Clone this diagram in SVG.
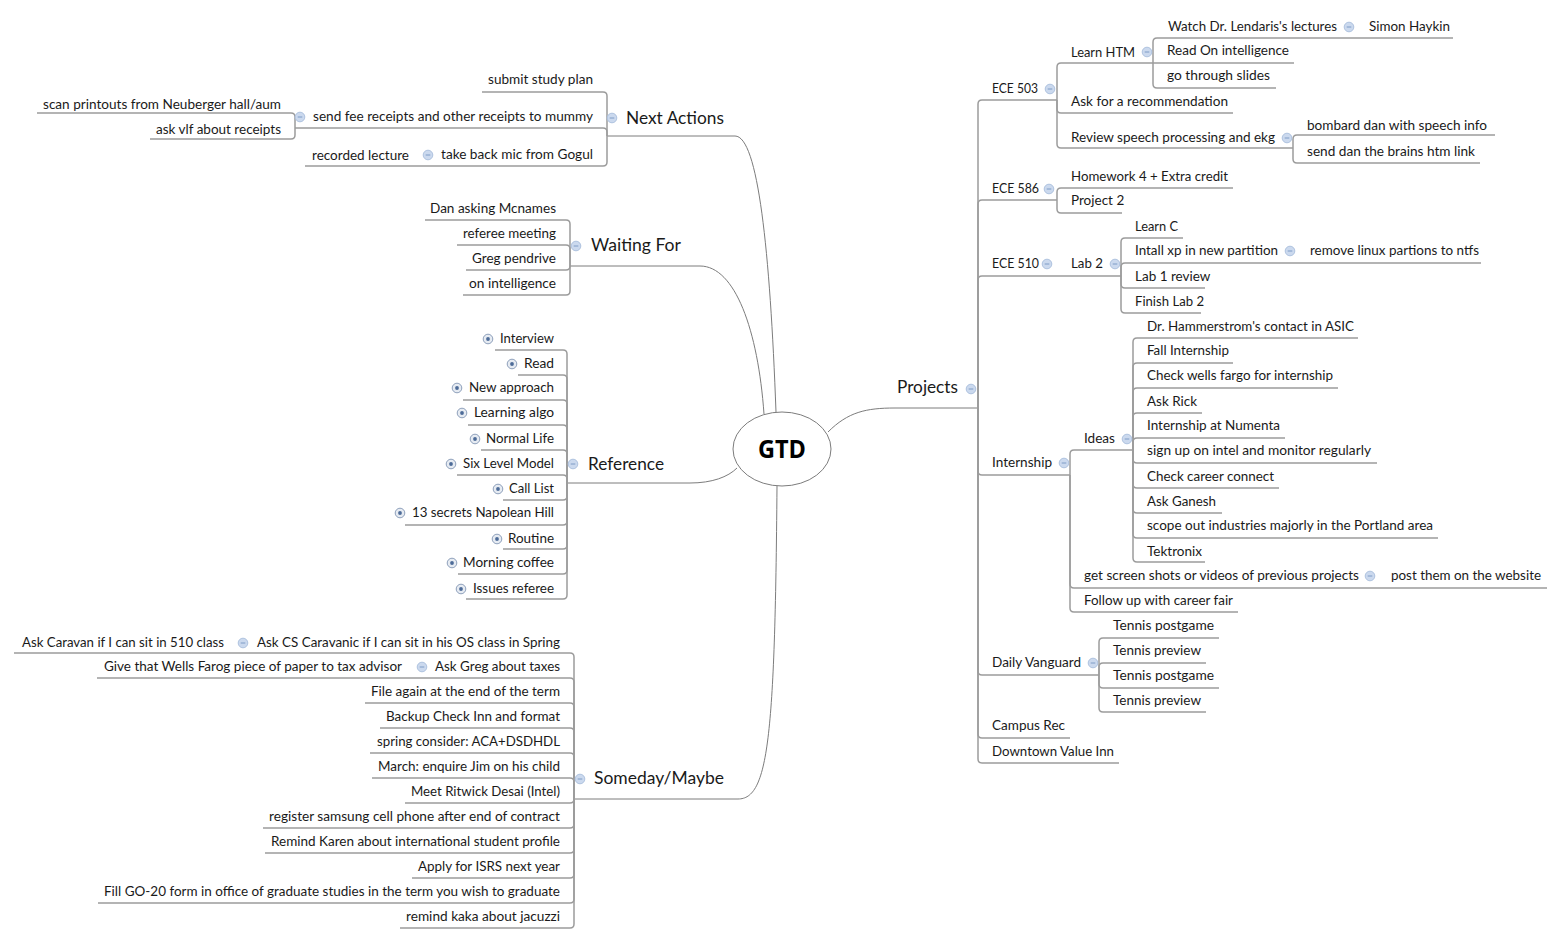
<svg xmlns="http://www.w3.org/2000/svg" xmlns:xlink="http://www.w3.org/1999/xlink" width="1564" height="945" viewBox="0 0 1564 945">
<style>
text{font-family:Lato,"Open Sans","Noto Sans",sans-serif;font-size:13.5px;fill:#1a1a1a}
.m{font-size:17.5px}
.e{text-anchor:end}
.g{font-family:"Open Sans","Noto Sans",sans-serif;font-size:25px;font-weight:bold;text-anchor:middle;fill:#000}
.c{fill:none;stroke:#9c9c9c;stroke-width:1.5}
.k{fill:none;stroke:#7c7c7c;stroke-width:1}
</style>
<defs>
<g id="col"><circle r="4.8" fill="#cbd9ee" stroke="#aec2df" stroke-width="1"/><line x1="-2.3" y1="0" x2="2.3" y2="0" stroke="#7f9cc6" stroke-width="1"/></g>
<g id="exp"><circle r="4.8" fill="#e6ebf2" stroke="#8ea0bb" stroke-width="1"/><circle r="1.9" fill="#4d6b98"/></g>
</defs>
<rect width="1564" height="945" fill="#fff"/>
<g id="connectors">
<path class="k" d="M828 432C848 412 866 408 895 408H978"/>
<path class="k" d="M607 136H735C758 136 770 250 776 412"/>
<path class="k" d="M570 266H700C735 266 758 330 764 414"/>
<path class="k" d="M567 483H690C712 483 728 477 737 468"/>
<path class="k" d="M574 799H738C768 799 775 740 777 486"/>
<g class="c">
<path d="M978 408V104Q978 100 982 100H1057"/>
<path d="M978 408V204Q978 200 982 200H1057"/>
<path d="M978 408V280Q978 276 982 276H1121"/>
<path d="M978 408V471Q978 475 982 475H1070"/>
<path d="M978 408V671Q978 675 982 675H1099"/>
<path d="M978 408V734Q978 738 982 738H1070"/>
<path d="M978 408V759Q978 763 982 763H1119"/>
<path d="M1057 100V67Q1057 63 1061 63H1153"/>
<path d="M1057 100V109Q1057 113 1061 113H1233"/>
<path d="M1057 100V144Q1057 148 1061 148H1293"/>
<path d="M1153 63V42Q1153 38 1157 38H1453"/>
<path d="M1153 63H1294"/>
<path d="M1153 63V84Q1153 88 1157 88H1276"/>
<path d="M1293 148V139Q1293 135 1297 135H1495"/>
<path d="M1293 148V159Q1293 163 1297 163H1480"/>
<path d="M1057 200V192Q1057 188 1061 188H1233"/>
<path d="M1057 200V209Q1057 213 1061 213H1122"/>
<path d="M1121 276V242Q1121 238 1125 238H1183"/>
<path d="M1121 276V267Q1121 263 1125 263H1481"/>
<path d="M1121 276V284Q1121 288 1125 288H1205"/>
<path d="M1121 276V309Q1121 313 1125 313H1201"/>
<path d="M1070 475V454Q1070 450 1074 450H1133"/>
<path d="M1070 475V584Q1070 588 1074 588H1547"/>
<path d="M1070 475V608Q1070 612 1074 612H1238"/>
<path d="M1133 450V342Q1133 338 1137 338H1358"/>
<path d="M1133 450V367Q1133 363 1137 363H1233"/>
<path d="M1133 450V392Q1133 388 1137 388H1338"/>
<path d="M1133 450V417Q1133 413 1137 413H1202"/>
<path d="M1133 450V442Q1133 438 1137 438H1285"/>
<path d="M1133 450V459Q1133 463 1137 463H1377"/>
<path d="M1133 450V484Q1133 488 1137 488H1279"/>
<path d="M1133 450V509Q1133 513 1137 513H1222"/>
<path d="M1133 450V534Q1133 538 1137 538H1438"/>
<path d="M1133 450V558Q1133 562 1137 562H1205"/>
<path d="M1099 675V642Q1099 638 1103 638H1219"/>
<path d="M1099 675V667Q1099 663 1103 663H1206"/>
<path d="M1099 675V684Q1099 688 1103 688H1219"/>
<path d="M1099 675V708Q1099 712 1103 712H1206"/>
<path d="M607 136V96Q607 92 603 92H482"/>
<path d="M607 136V132Q607 128 603 128H295"/>
<path d="M607 136V162Q607 166 603 166H305"/>
<path d="M295 128V117Q295 113 291 113H37"/>
<path d="M295 128V135Q295 139 291 139H150"/>
<path d="M570 266V224Q570 220 566 220H425"/>
<path d="M570 266V249Q570 245 566 245H457"/>
<path d="M570 266Q570 270 566 270H466"/>
<path d="M570 266V291Q570 295 566 295H463"/>
<path d="M567 483V354Q567 350 563 350H495"/>
<path d="M567 483V379Q567 375 563 375H518"/>
<path d="M567 483V404Q567 400 563 400H463"/>
<path d="M567 483V429Q567 425 563 425H468"/>
<path d="M567 483V454Q567 450 563 450H481"/>
<path d="M567 483V479Q567 475 563 475H457"/>
<path d="M567 483V496Q567 500 563 500H503"/>
<path d="M567 483V521Q567 525 563 525H405"/>
<path d="M567 483V545Q567 549 563 549H503"/>
<path d="M567 483V570Q567 574 563 574H458"/>
<path d="M567 483V595Q567 599 563 599H466"/>
<path d="M574 799V657Q574 653 570 653H14"/>
<path d="M574 799V682Q574 678 570 678H97"/>
<path d="M574 799V707Q574 703 570 703H365"/>
<path d="M574 799V732Q574 728 570 728H380"/>
<path d="M574 799V757Q574 753 570 753H370"/>
<path d="M574 799V782Q574 778 570 778H372"/>
<path d="M574 799Q574 803 570 803H405"/>
<path d="M574 799V824Q574 828 570 828H263"/>
<path d="M574 799V849Q574 853 570 853H265"/>
<path d="M574 799V874Q574 878 570 878H412"/>
<path d="M574 799V899Q574 903 570 903H98"/>
<path d="M574 799V924Q574 928 570 928H400"/>
</g>
</g>
<g id="gtd"><ellipse cx="782" cy="449" rx="49" ry="37" fill="#fff" stroke="#7c7c7c" stroke-width="1"/><text class="g" x="782" y="458" textLength="48" lengthAdjust="spacingAndGlyphs">GTD</text></g>
<g id="projects"><text class="m" x="897" y="393" textLength="61" lengthAdjust="spacingAndGlyphs">Projects</text><use href="#col" x="971" y="389"/></g>
<g id="ece503"><text x="992" y="93" textLength="46" lengthAdjust="spacingAndGlyphs">ECE 503</text><use href="#col" x="1050" y="89"/></g>
<g id="learn-htm"><text x="1071" y="57" textLength="64" lengthAdjust="spacingAndGlyphs">Learn HTM</text><use href="#col" x="1147" y="52"/></g>
<g id="watch"><text x="1168" y="31" textLength="169" lengthAdjust="spacingAndGlyphs">Watch Dr. Lendaris's lectures</text><use href="#col" x="1349" y="27"/></g>
<g id="simon"><text x="1369" y="31" textLength="81" lengthAdjust="spacingAndGlyphs">Simon Haykin</text></g>
<g id="read-on"><text x="1167" y="55" textLength="122" lengthAdjust="spacingAndGlyphs">Read On intelligence</text></g>
<g id="slides"><text x="1167" y="80" textLength="103" lengthAdjust="spacingAndGlyphs">go through slides</text></g>
<g id="ask-rec"><text x="1071" y="106" textLength="157" lengthAdjust="spacingAndGlyphs">Ask for a recommendation</text></g>
<g id="review"><text x="1071" y="142" textLength="204" lengthAdjust="spacingAndGlyphs">Review speech processing and ekg</text><use href="#col" x="1287" y="138"/></g>
<g id="bombard"><text x="1307" y="130" textLength="180" lengthAdjust="spacingAndGlyphs">bombard dan with speech info</text></g>
<g id="send-dan"><text x="1307" y="156" textLength="168" lengthAdjust="spacingAndGlyphs">send dan the brains htm link</text></g>
<g id="ece586"><text x="992" y="193" textLength="47" lengthAdjust="spacingAndGlyphs">ECE 586</text><use href="#col" x="1049" y="189"/></g>
<g id="hw4"><text x="1071" y="181" textLength="157" lengthAdjust="spacingAndGlyphs">Homework 4 + Extra credit</text></g>
<g id="project2"><text x="1071" y="205">Project 2</text></g>
<g id="ece510"><text x="992" y="268" textLength="47" lengthAdjust="spacingAndGlyphs">ECE 510</text><use href="#col" x="1047" y="264"/></g>
<g id="lab2"><text x="1071" y="268" textLength="32" lengthAdjust="spacingAndGlyphs">Lab 2</text><use href="#col" x="1115" y="264"/></g>
<g id="learn-c"><text x="1135" y="231" textLength="43" lengthAdjust="spacingAndGlyphs">Learn C</text></g>
<g id="intall"><text x="1135" y="255" textLength="143" lengthAdjust="spacingAndGlyphs">Intall xp in new partition</text><use href="#col" x="1290" y="251"/></g>
<g id="remove-linux"><text x="1310" y="255" textLength="169" lengthAdjust="spacingAndGlyphs">remove linux partions to ntfs</text></g>
<g id="lab1"><text x="1135" y="281">Lab 1 review</text></g>
<g id="finish-lab2"><text x="1135" y="306" textLength="69" lengthAdjust="spacingAndGlyphs">Finish Lab 2</text></g>
<g id="internship"><text x="992" y="467" textLength="60" lengthAdjust="spacingAndGlyphs">Internship</text><use href="#col" x="1064" y="463"/></g>
<g id="ideas"><text x="1084" y="443" textLength="31" lengthAdjust="spacingAndGlyphs">Ideas</text><use href="#col" x="1127" y="439"/></g>
<g id="idea1"><text x="1147" y="331" textLength="207" lengthAdjust="spacingAndGlyphs">Dr. Hammerstrom's contact in ASIC</text></g>
<g id="idea2"><text x="1147" y="355" textLength="82" lengthAdjust="spacingAndGlyphs">Fall Internship</text></g>
<g id="idea3"><text x="1147" y="380" textLength="186" lengthAdjust="spacingAndGlyphs">Check wells fargo for internship</text></g>
<g id="idea4"><text x="1147" y="406" textLength="50" lengthAdjust="spacingAndGlyphs">Ask Rick</text></g>
<g id="idea5"><text x="1147" y="430" textLength="133" lengthAdjust="spacingAndGlyphs">Internship at Numenta</text></g>
<g id="idea6"><text x="1147" y="455" textLength="224" lengthAdjust="spacingAndGlyphs">sign up on intel and monitor regularly</text></g>
<g id="idea7"><text x="1147" y="481" textLength="127" lengthAdjust="spacingAndGlyphs">Check career connect</text></g>
<g id="idea8"><text x="1147" y="506" textLength="69" lengthAdjust="spacingAndGlyphs">Ask Ganesh</text></g>
<g id="idea9"><text x="1147" y="530" textLength="286" lengthAdjust="spacingAndGlyphs">scope out industries majorly in the Portland area</text></g>
<g id="idea10"><text x="1147" y="556" textLength="55" lengthAdjust="spacingAndGlyphs">Tektronix</text></g>
<g id="screenshots"><text x="1084" y="580" textLength="275" lengthAdjust="spacingAndGlyphs">get screen shots or videos of previous projects</text><use href="#col" x="1370" y="576"/></g>
<g id="post-them"><text x="1391" y="580" textLength="150" lengthAdjust="spacingAndGlyphs">post them on the website</text></g>
<g id="career-fair"><text x="1084" y="605" textLength="149" lengthAdjust="spacingAndGlyphs">Follow up with career fair</text></g>
<g id="vanguard"><text x="992" y="667" textLength="89" lengthAdjust="spacingAndGlyphs">Daily Vanguard</text><use href="#col" x="1093" y="663"/></g>
<g id="tennis1"><text x="1113" y="630" textLength="101" lengthAdjust="spacingAndGlyphs">Tennis postgame</text></g>
<g id="tennis2"><text x="1113" y="655" textLength="88" lengthAdjust="spacingAndGlyphs">Tennis preview</text></g>
<g id="tennis3"><text x="1113" y="680" textLength="101" lengthAdjust="spacingAndGlyphs">Tennis postgame</text></g>
<g id="tennis4"><text x="1113" y="705" textLength="88" lengthAdjust="spacingAndGlyphs">Tennis preview</text></g>
<g id="campus-rec"><text x="992" y="730" textLength="73" lengthAdjust="spacingAndGlyphs">Campus Rec</text></g>
<g id="downtown"><text x="992" y="756" textLength="122" lengthAdjust="spacingAndGlyphs">Downtown Value Inn</text></g>
<g id="next-actions"><text class="m" x="626" y="124" textLength="98" lengthAdjust="spacingAndGlyphs">Next Actions</text><use href="#col" x="612" y="118"/></g>
<g id="submit"><text class="e" x="593" y="84" textLength="105" lengthAdjust="spacingAndGlyphs">submit study plan</text></g>
<g id="send-fee"><text class="e" x="593" y="121" textLength="280" lengthAdjust="spacingAndGlyphs">send fee receipts and other receipts to mummy</text><use href="#col" x="300" y="117"/></g>
<g id="scan"><text class="e" x="281" y="109" textLength="238" lengthAdjust="spacingAndGlyphs">scan printouts from Neuberger hall/aum</text></g>
<g id="ask-vlf"><text class="e" x="281" y="134" textLength="125" lengthAdjust="spacingAndGlyphs">ask vlf about receipts</text></g>
<g id="take-mic"><text class="e" x="593" y="159" textLength="152" lengthAdjust="spacingAndGlyphs">take back mic from Gogul</text><use href="#col" x="428" y="155"/></g>
<g id="recorded"><text class="e" x="409" y="160" textLength="97" lengthAdjust="spacingAndGlyphs">recorded lecture</text></g>
<g id="waiting-for"><text class="m" x="591" y="251" textLength="90" lengthAdjust="spacingAndGlyphs">Waiting For</text><use href="#col" x="576" y="246"/></g>
<g id="w1"><text class="e" x="556" y="213" textLength="126" lengthAdjust="spacingAndGlyphs">Dan asking Mcnames</text></g>
<g id="w2"><text class="e" x="556" y="238" textLength="93" lengthAdjust="spacingAndGlyphs">referee meeting</text></g>
<g id="w3"><text class="e" x="556" y="263" textLength="84" lengthAdjust="spacingAndGlyphs">Greg pendrive</text></g>
<g id="w4"><text class="e" x="556" y="288" textLength="87" lengthAdjust="spacingAndGlyphs">on intelligence</text></g>
<g id="reference"><text class="m" x="588" y="470" textLength="76" lengthAdjust="spacingAndGlyphs">Reference</text><use href="#col" x="573" y="464"/></g>
<g id="r1"><text class="e" x="554" y="343" textLength="54" lengthAdjust="spacingAndGlyphs">Interview</text><use href="#exp" x="488" y="339"/></g>
<g id="r2"><text class="e" x="554" y="368" textLength="30" lengthAdjust="spacingAndGlyphs">Read</text><use href="#exp" x="512" y="364"/></g>
<g id="r3"><text class="e" x="554" y="392" textLength="85" lengthAdjust="spacingAndGlyphs">New approach</text><use href="#exp" x="457" y="388"/></g>
<g id="r4"><text class="e" x="554" y="417" textLength="80" lengthAdjust="spacingAndGlyphs">Learning algo</text><use href="#exp" x="462" y="413"/></g>
<g id="r5"><text class="e" x="554" y="443" textLength="68" lengthAdjust="spacingAndGlyphs">Normal Life</text><use href="#exp" x="475" y="439"/></g>
<g id="r6"><text class="e" x="554" y="468" textLength="91" lengthAdjust="spacingAndGlyphs">Six Level Model</text><use href="#exp" x="451" y="464"/></g>
<g id="r7"><text class="e" x="554" y="493" textLength="45" lengthAdjust="spacingAndGlyphs">Call List</text><use href="#exp" x="498" y="489"/></g>
<g id="r8"><text class="e" x="554" y="517" textLength="142" lengthAdjust="spacingAndGlyphs">13 secrets Napolean Hill</text><use href="#exp" x="400" y="513"/></g>
<g id="r9"><text class="e" x="554" y="543" textLength="46" lengthAdjust="spacingAndGlyphs">Routine</text><use href="#exp" x="497" y="539"/></g>
<g id="r10"><text class="e" x="554" y="567" textLength="91" lengthAdjust="spacingAndGlyphs">Morning coffee</text><use href="#exp" x="452" y="563"/></g>
<g id="r11"><text class="e" x="554" y="593" textLength="81" lengthAdjust="spacingAndGlyphs">Issues referee</text><use href="#exp" x="461" y="589"/></g>
<g id="someday"><text class="m" x="594" y="784" textLength="130" lengthAdjust="spacingAndGlyphs">Someday/Maybe</text><use href="#col" x="580" y="779"/></g>
<g id="s1"><text class="e" x="560" y="647" textLength="303" lengthAdjust="spacingAndGlyphs">Ask CS Caravanic if I can sit in his OS class in Spring</text><use href="#col" x="243" y="643"/></g>
<g id="s1a"><text class="e" x="224" y="647" textLength="202" lengthAdjust="spacingAndGlyphs">Ask Caravan if I can sit in 510 class</text></g>
<g id="s2"><text class="e" x="560" y="671" textLength="125" lengthAdjust="spacingAndGlyphs">Ask Greg about taxes</text><use href="#col" x="422" y="667"/></g>
<g id="s2a"><text class="e" x="402" y="671" textLength="298" lengthAdjust="spacingAndGlyphs">Give that Wells Farog piece of paper to tax advisor</text></g>
<g id="s3"><text class="e" x="560" y="696" textLength="189" lengthAdjust="spacingAndGlyphs">File again at the end of the term</text></g>
<g id="s4"><text class="e" x="560" y="721" textLength="174" lengthAdjust="spacingAndGlyphs">Backup Check Inn and format</text></g>
<g id="s5"><text class="e" x="560" y="746" textLength="183" lengthAdjust="spacingAndGlyphs">spring consider: ACA+DSDHDL</text></g>
<g id="s6"><text class="e" x="560" y="771" textLength="182" lengthAdjust="spacingAndGlyphs">March: enquire Jim on his child</text></g>
<g id="s7"><text class="e" x="560" y="796" textLength="149" lengthAdjust="spacingAndGlyphs">Meet Ritwick Desai (Intel)</text></g>
<g id="s8"><text class="e" x="560" y="821" textLength="291" lengthAdjust="spacingAndGlyphs">register samsung cell phone after end of contract</text></g>
<g id="s9"><text class="e" x="560" y="846" textLength="289" lengthAdjust="spacingAndGlyphs">Remind Karen about international student profile</text></g>
<g id="s10"><text class="e" x="560" y="871" textLength="142" lengthAdjust="spacingAndGlyphs">Apply for ISRS next year</text></g>
<g id="s11"><text class="e" x="560" y="896" textLength="456" lengthAdjust="spacingAndGlyphs">Fill GO-20 form in office of graduate studies in the term you wish to graduate</text></g>
<g id="s12"><text class="e" x="560" y="921" textLength="154" lengthAdjust="spacingAndGlyphs">remind kaka about jacuzzi</text></g>
</svg>
